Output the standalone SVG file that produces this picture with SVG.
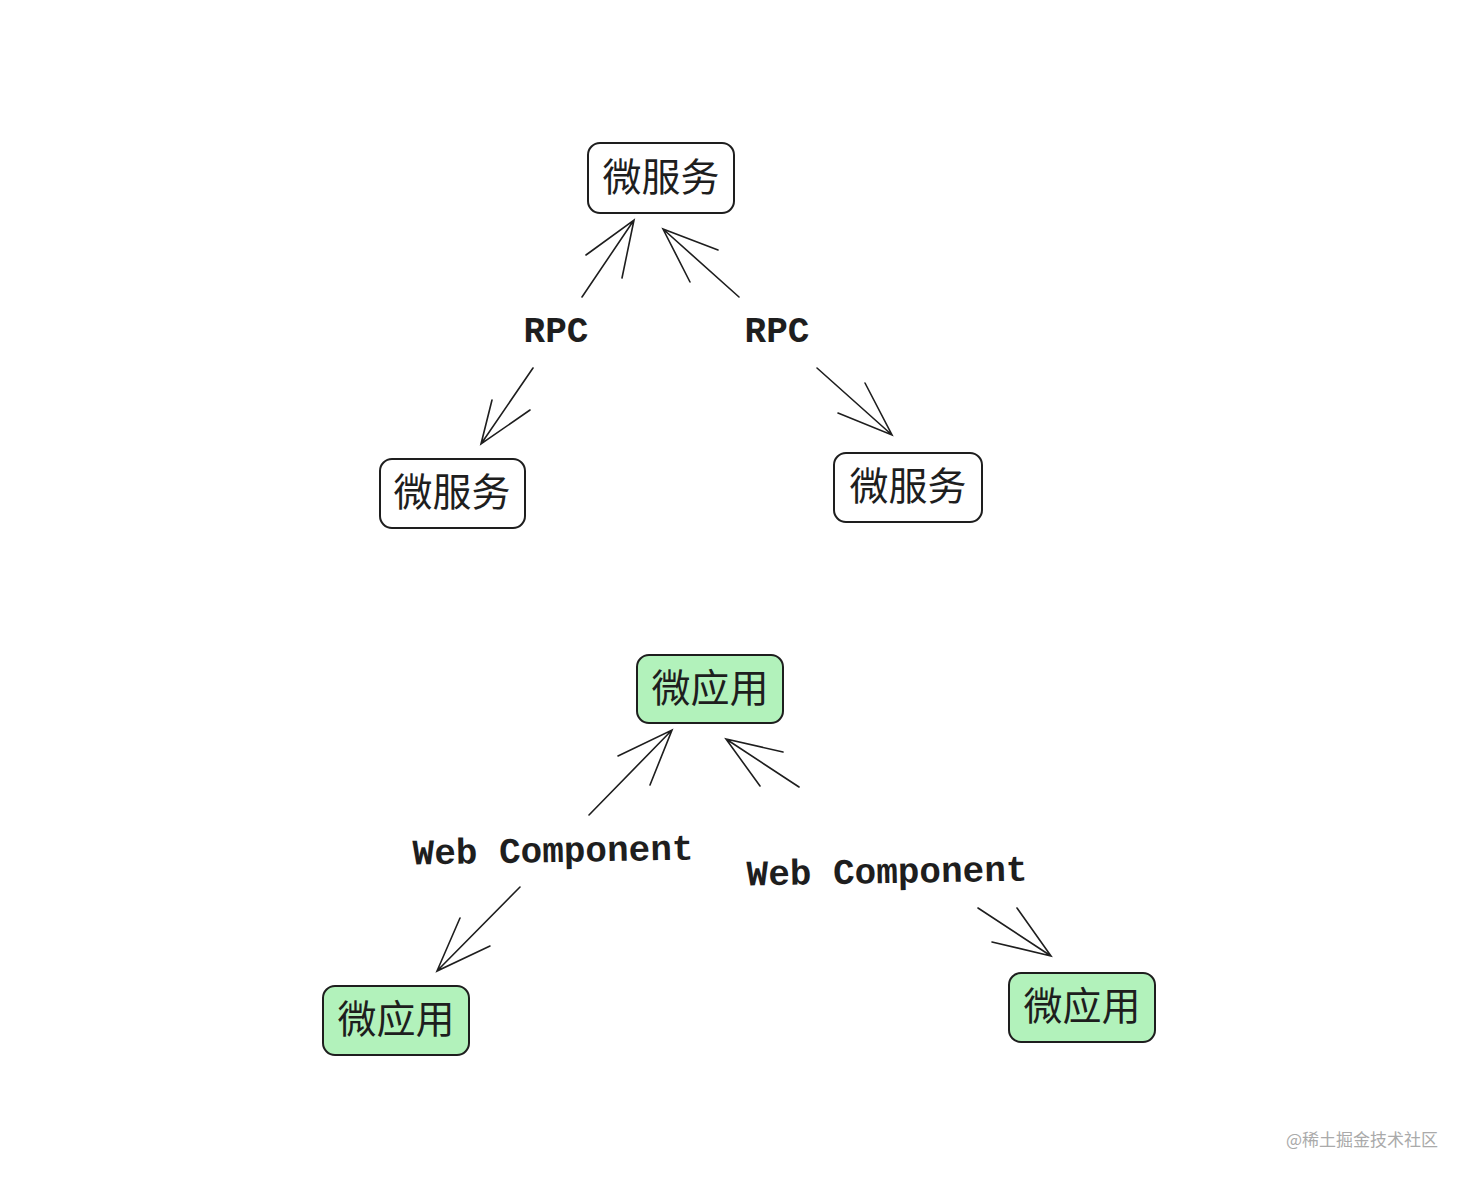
<svg xmlns="http://www.w3.org/2000/svg" width="1470" height="1180" viewBox="0 0 1470 1180">
<style>
.box{fill:#fff;stroke:#1e1e1e;stroke-width:2}
.g{fill:#b2f2bb}
.t{font-family:"Noto Sans CJK SC",sans-serif;font-size:39px;fill:#1e1e1e;text-anchor:middle}
.l{font-family:"Liberation Mono",monospace;font-weight:bold;font-size:36px;fill:#1e1e1e;text-anchor:middle}
.c{fill:none;stroke:#1e1e1e;stroke-width:1.6;stroke-linecap:round}
</style>
<rect width="1470" height="1180" fill="#fff"/>
<g id="n1"><rect class="box" x="588" y="143" width="146" height="70" rx="12"/><text class="t" x="661" y="191">微服务</text></g>
<g id="n2"><rect class="box" x="380" y="459" width="145" height="69" rx="12"/><text class="t" x="452" y="506">微服务</text></g>
<g id="n3"><rect class="box" x="834" y="453" width="148" height="69" rx="12"/><text class="t" x="908" y="500">微服务</text></g>
<g id="n4"><rect class="box g" x="637" y="655" width="146" height="68" rx="12"/><text class="t" x="710" y="702">微应用</text></g>
<g id="n5"><rect class="box g" x="323" y="986" width="146" height="69" rx="12"/><text class="t" x="396" y="1033">微应用</text></g>
<g id="n6"><rect class="box g" x="1009" y="973" width="146" height="69" rx="12"/><text class="t" x="1082" y="1020">微应用</text></g>
<g id="connectors">
<path class="c" d="M582 297L634 220M586 255L634 220L622 278"/>
<path class="c" d="M739 297L663 229M718 250L663 229L690 282"/>
<path class="c" d="M533 368L481 444M530 410L481 444L492 400"/>
<path class="c" d="M817 368L892 435M838 413L892 435L865 383"/>
<path class="c" d="M589 815L672 730M618 756L672 730L650 785"/>
<path class="c" d="M799 787L726 739M783 752L726 739L760 786"/>
<path class="c" d="M520 887L437 971M490 946L437 971L460 918"/>
<path class="c" d="M978 908L1051 956M992 942L1051 956L1017 908"/>
</g>
<g id="labels">
<text class="l" x="556" y="342">RPC</text>
<text class="l" x="777" y="342">RPC</text>
<text class="l" x="553" y="862" transform="rotate(-1 553 850)">Web Component</text>
<text class="l" x="887" y="883" transform="rotate(-1 887 871)">Web Component</text>
</g>
<text x="1438" y="1146" font-family="Noto Sans CJK SC,sans-serif" font-size="17" fill="#aaa" text-anchor="end">@稀土掘金技术社区</text>
</svg>
